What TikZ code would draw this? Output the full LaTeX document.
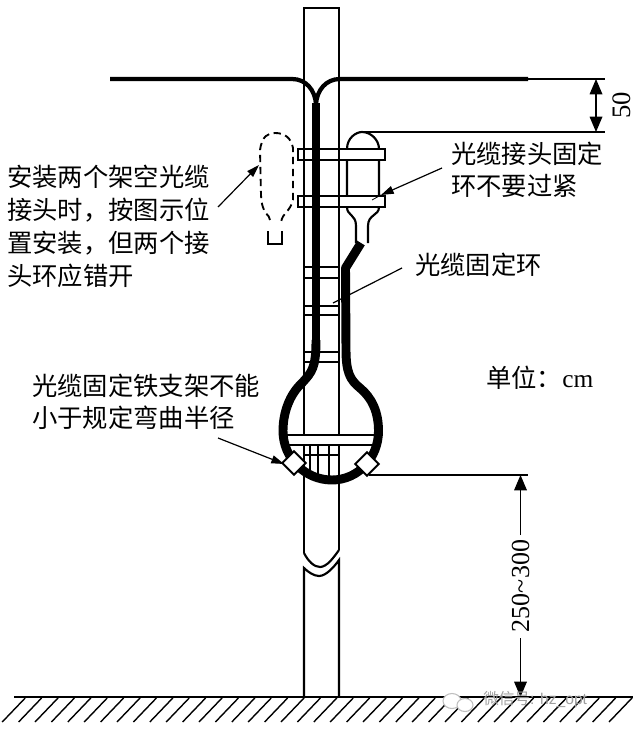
\documentclass[tikz,border=0pt]{standalone}
\usepackage{fontspec}
\setmainfont{Liberation Serif}
\newfontfamily\cjk{Noto Sans CJK SC}
\setsansfont{Liberation Sans}
\usetikzlibrary{arrows.meta}
\tikzset{
  thin line/.style={line width=1.05pt,black},
  pole/.style={line width=1.6pt,black},
  band/.style={line width=1.5pt,black,fill=white},
  cable/.style={line width=6.7pt,black,line join=round},
  ghost/.style={line width=1.4pt,black,dash pattern=on 5.5pt off 3.5pt},
  leader/.style={line width=0.9pt,black,-{Triangle[length=9.5pt,width=6pt]}},
  dim/.style={line width=0.9pt,black,-{Triangle[length=11.5pt,width=9.5pt]}},
  label/.style={font=\cjk\fontsize{19pt}{24pt}\selectfont,inner sep=0pt,align=left,text=black},
  clampsq/.style={draw=black,line width=1.4pt,fill=white,rotate=45,minimum size=12.5pt,inner sep=0pt},
  wm/.style={text=black!38,inner sep=0pt},
}
\begin{document}
\begin{tikzpicture}[x=0.75pt,y=-0.75pt]
\useasboundingbox (0,0) rectangle (640,734);
\fill[white] (0,0) rectangle (640,734);
% ground
\draw[pole] (14,697) -- (633,697);
\foreach \i in {0,...,37} {\draw[thin line] ({25.2+\i*16.4},698) -- ({2.2+\i*16.4},722);}
% pole
\draw[pole] (304,553) -- (304,8) -- (339,8) -- (339,550);
\draw[pole] (304,553) .. controls (308,561) and (314,567) .. (320,567) .. controls (327,567) and (334,557) .. (339,550);
\draw[pole] (304,697) -- (304,568) .. controls (308,572) and (314,576) .. (319,576) .. controls (326,576) and (334,567) .. (339,560) -- (339,697);
% dims top
\coordinate (t1) at (605,79); \coordinate (t2) at (605,132);
\draw[thin line] (362,132) -- (t2);
\draw[thin line] (525,79) -- (t1);
\coordinate (a1) at (596,79); \coordinate (a2) at (596,132); \coordinate (am) at (596,105);
\draw[dim] (am) -- (a1);
\draw[dim] (am) -- (a2);
\node[rotate=90,font=\fontsize{20pt}{22pt}\selectfont,inner sep=0pt] (n50) at (622,105.5) {50};
% overhead cable
\draw[line width=3.2pt,line join=round] (110,79) -- (292,79) .. controls (306,79) and (315,90) .. (316,104);
\draw[line width=3.2pt,line join=round] (528,79) -- (340,79) .. controls (326,79) and (317,90) .. (316,104);
% ghost joint
\draw[ghost] (270,220) .. controls (270,214) and (262,216) .. (261,195) -- (260,150) .. controls (262,136) and (268,133) .. (275,133) .. controls (285,133) and (291,138) .. (293,148) -- (293,200) .. controls (290,212) and (283,212) .. (281,222);
\draw[pole,line width=1.3pt] (268,231) -- (268,244) -- (282,244) -- (282,231);
% joint
\draw[pole] (347,149) .. controls (347,138) and (356,132) .. (362,132) .. controls (371,132) and (379,140) .. (379,149) -- (379,207) .. controls (379,216) and (368,214) .. (368,226) -- (368,243);
\draw[pole] (347,149) -- (347,207) .. controls (347,216) and (356,214) .. (356,226) -- (356,243);
% bands top
\draw[band] (298,149) rectangle (385,160);
\draw[band] (298,196) rectangle (385,207);
\draw[pole] (304,149) -- (304,207);\draw[pole] (339,149) -- (339,207);
% rings
\foreach \y in {267,278,306,315,352,362} {\draw[thin line] (304,\y) -- (339,\y);}
% bottom bracket
\draw[band] (286,435) rectangle (375,444.5);
\draw[thin line] (304,455) -- (339,455);
\foreach \x in {310,318,329} {\draw[thin line] (\x,445) -- (\x,478);}
% vertical cable
\draw[line width=6.5pt] (316,103) -- (316,345);
% cable and loop
\draw[cable] (316,340) .. controls (316,368) and (312,372) .. (302,383) .. controls (290,394) and (283,412) .. (283,431) .. controls (283,458) and (305,480) .. (332,480) .. controls (358,480) and (378.5,458) .. (378.5,431) .. controls (378.5,412) and (372,398) .. (360,388) .. controls (350,380) and (346,372) .. (346,350) -- (345.5,268) -- (361,243);
\node[clampsq] (sqL) at (294,463) {};
\node[clampsq] (sqR) at (367,464) {};
% lower dim
\coordinate (e1) at (528,475); \coordinate (e0) at (369,475);
\draw[thin line] (e0) -- (e1);
\coordinate (d1) at (520.5,475); \coordinate (d2) at (520.5,697);
\node[rotate=90,font=\fontsize{19.5pt}{22pt}\selectfont,inner sep=0pt] (n250) at (520.5,586) {250\textasciitilde 300};
\draw[dim] (520.5,535) -- (d1);
\draw[dim] (520.5,638) -- (d2);
% labels
\node[label,anchor=north west,font=\cjk\fontsize{19pt}{24.6pt}\selectfont] (tA) at (7,165) {安装两个架空光缆\\接头时，按图示位\\置安装，但两个接\\头环应错开};
\node[label,anchor=north west] (tB) at (451,142) {光缆接头固定\\环不要过紧};
\node[label,anchor=west] (tC) at (415,265) {光缆固定环};
\node[label,anchor=north west,font=\cjk\fontsize{19pt}{23.7pt}\selectfont] (tD) at (32,374) {光缆固定铁支架不能\\小于规定弯曲半径};
\node[label,anchor=west] (tE) at (486,378) {单位：\rmfamily cm};
% leaders
\coordinate (lA) at (218,207); \coordinate (lAe) at (259,165);
\draw[leader] (lA) -- (lAe);
\coordinate (lB) at (442,168); \coordinate (lBe) at (381,195); \coordinate (lBf) at (372,200);
\draw[leader] (lB) -- (lBe);
\draw[line width=0.6pt] (lBe) -- (lBf);
\coordinate (lC) at (402,268); \coordinate (lCe) at (333,303);
\draw[line width=0.9pt] (lC) -- (lCe);
\coordinate (lD) at (218,438); \coordinate (lDe) at (284,464);
\draw[leader] (lD) -- (lDe);
% watermark
\draw[black!25,fill=white,line width=0.8pt] (452,701) ellipse (9 and 7.5);
\draw[black!25,fill=white,line width=0.8pt] (465,705) ellipse (8 and 6.5);
\node[wm,anchor=west] (wmk) at (483,700) {\cjk\fontsize{11.7pt}{14pt}\selectfont 微信号\sffamily: hz\_opt};
\end{tikzpicture}
\end{document}
